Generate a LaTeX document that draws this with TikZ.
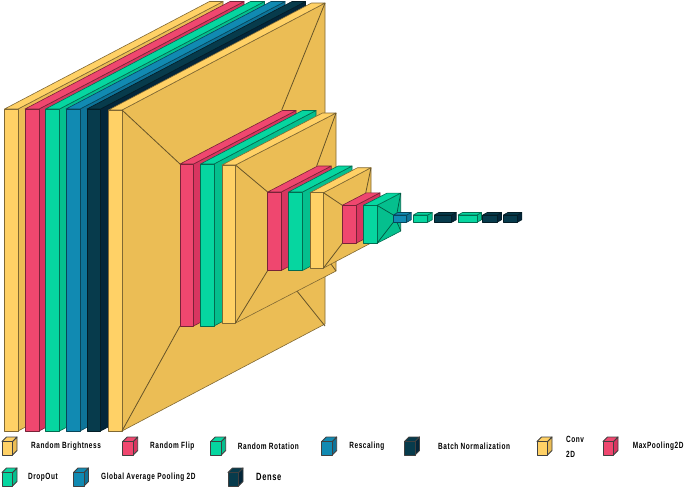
\documentclass[tikz,border=0pt]{standalone}
\usepackage{fontspec}
\usepackage{tikz}
\usetikzlibrary{positioning}
\setmainfont{Liberation Sans}[FakeStretch=0.72,LetterSpace=6]
\definecolor{layerconv}{HTML}{FFD166}
\definecolor{layerconvside}{HTML}{EBBD55}
\definecolor{layerpool}{HTML}{EF476F}
\definecolor{layerpoolside}{HTML}{D83560}
\definecolor{layerdrop}{HTML}{06D6A0}
\definecolor{layerdropside}{HTML}{05BF8E}
\definecolor{layerscale}{HTML}{118AB2}
\definecolor{layerscaleside}{HTML}{0E7499}
\definecolor{layernorm}{HTML}{073B4C}
\definecolor{layernormside}{HTML}{03263A}
% colour, left, width, top, bottom, depth x, depth y
\newcommand{\layerblock}[7]{
  \fill[face=#1, fill=#1side] ({#2+#3},#4) -- ++(#6,-#7) -- ({#2+#3+#6},{#5-#7}) -- ({#2+#3},#5) -- cycle;
  \fill[face=#1, fill=#1] (#2,#4) -- ++(#6,-#7) -- ++(#3,0) -- ({#2+#3},#4) -- cycle;
  \fill[face=#1, fill=#1] (#2,#4) rectangle ({#2+#3},#5);
}
% name, left, top, colour
\newcommand{\legendcube}[4]{
  \coordinate (#1) at ({#2+15},{#3+9});
  \draw[legendface, fill=#4side] ({#2+10.5},{#3+4.5}) -- ++(4.5,-4.5) -- ++(0,13.5) -- ++(-4.5,4.5) -- cycle;
  \draw[legendface, fill=#4] (#2,{#3+4.5}) -- ++(4.5,-4.5) -- ++(10.5,0) -- ++(-4.5,4.5) -- cycle;
  \draw[legendface, fill=#4] (#2,{#3+4.5}) rectangle ++(10.5,13.5);
}
\begin{document}
\begin{tikzpicture}[
    x=1pt, y=-1pt,
    face/.style={draw=#1!50!black, line width=0.6pt, line join=round},
    legendface/.style={draw=black!75, line width=0.9pt, line join=round},
    funnel/.style={draw=layerconv!40!black, line width=0.8pt},
    legendtext/.style={font=\bfseries\fontsize{9}{10}\selectfont, text=black, inner sep=0pt, anchor=west, align=left},
]
\useasboundingbox (0,0) rectangle (685,488);

% ─── Stack 1 ───
\layerblock{layerconv}{4.5}{13.5}{109}{431}{205}{107.5}
\layerblock{layerpool}{25}{14}{109}{431}{205}{107.5}
\layerblock{layerdrop}{45.5}{14}{109}{431}{205}{107.5}
\layerblock{layerscale}{66}{14}{109}{431}{205}{107.5}
\layerblock{layernorm}{87}{13.5}{109}{431}{205}{107.5}
\layerblock{layerconv}{108.5}{13.5}{110}{431}{203}{107}

\draw[funnel] (122,110) -- (180,164);
\draw[funnel] (122,431) -- (180,326);
\draw[funnel] (325,3) -- (281.7,110);
\draw[funnel] (325,326) -- (281.7,272);

% ─── Stack 2 ───
\layerblock{layerpool}{180}{13.5}{164}{326}{102.5}{53.5}
\layerblock{layerdrop}{200.5}{13.5}{164}{326}{102}{53.5}
\layerblock{layerconv}{222}{13.5}{165}{323}{100.5}{52}

\draw[funnel] (235.5,165) -- (267.7,192);
\draw[funnel] (235.5,323) -- (267.7,270.5);
\draw[funnel] (336,113) -- (316.7,166);
\draw[funnel] (336,271) -- (316.7,244);

% ─── Stack 3 ───
\layerblock{layerpool}{267.7}{13.5}{192}{270.5}{50}{26}
\layerblock{layerdrop}{288.5}{14}{192}{270.5}{49.5}{26}
\layerblock{layerconv}{310}{13.5}{192.7}{268}{47.5}{25}

\draw[funnel] (323.5,192.7) -- (342.3,205.3);
\draw[funnel] (323.5,268) -- (342.3,243.3);
\draw[funnel] (371,167.7) -- (365.7,193);
\draw[funnel] (371,243) -- (365.7,231);

% ─── Stack 4 ───
\layerblock{layerpool}{342.3}{13.7}{205.3}{243.3}{24}{12.5}
\layerblock{layerdrop}{363.3}{13.7}{205.3}{243.3}{23.7}{12.2}

\draw[draw=layerdrop!40!black, line width=0.7pt] (377,205.3) -- (393.3,215);
\draw[draw=layerdrop!40!black, line width=0.7pt] (377,243.3) -- (393.3,222.3);
\draw[draw=layerdrop!40!black, line width=0.7pt] (400.7,193.3) -- (397,213);
\draw[draw=layerdrop!40!black, line width=0.7pt] (400.7,230.7) -- (397,222.3);

% ─── Small layers ───
\layerblock{layerscale}{393.3}{13.4}{215}{222.3}{4.5}{2.5}
\layerblock{layerdrop}{413.3}{14.4}{215}{222.3}{4.5}{2.5}
\layerblock{layernorm}{434.3}{17.4}{215}{222.3}{4.5}{2.5}
\layerblock{layerdrop}{458}{19}{215}{222.3}{4.5}{2.5}
\layerblock{layernorm}{482.7}{14.3}{215}{222.3}{4.5}{2.5}
\layerblock{layernorm}{503.3}{14}{215}{222.3}{4.5}{2.5}

% ─── Legend ───
\legendcube{brightkey}{2}{437}{layerconv}
\node[legendtext, right=14pt of brightkey] (brightlabel) {Random Brightness};
\legendcube{flipkey}{122.7}{437}{layerpool}
\node[legendtext, right=12.3pt of flipkey] (fliplabel) {Random Flip};
\legendcube{rotkey}{210.7}{437}{layerdrop}
\node[legendtext, right=12pt of rotkey] (rotlabel) {Random Rotation};
\legendcube{scalekey}{321.7}{437}{layerscale}
\node[legendtext, right=12.5pt of scalekey] (scalelabel) {Rescaling};
\legendcube{normkey}{404.5}{437}{layernorm}
\node[legendtext, right=18.5pt of normkey] (normlabel) {Batch Normalization};
\legendcube{convkey}{537}{437}{layerconv}
\node[legendtext, right=14pt of convkey, yshift=-0.5pt] (convlabel) {Conv\\[5pt]2D};
\legendcube{poolkey}{603}{437}{layerpool}
\node[legendtext, right=14.7pt of poolkey] (poollabel) {MaxPooling2D};

\legendcube{dropkey}{2}{468}{layerdrop}
\node[legendtext, right=11pt of dropkey] (droplabel) {DropOut};
\legendcube{avgkey}{73.5}{468}{layerscale}
\node[legendtext, right=12.5pt of avgkey] (avglabel) {Global Average Pooling 2D};
\legendcube{densekey}{228}{468}{layernorm}
\node[legendtext, right=13pt of densekey, font=\bfseries\fontsize{10.5}{12}\selectfont] (denselabel) {Dense};

\end{tikzpicture}
\end{document}
